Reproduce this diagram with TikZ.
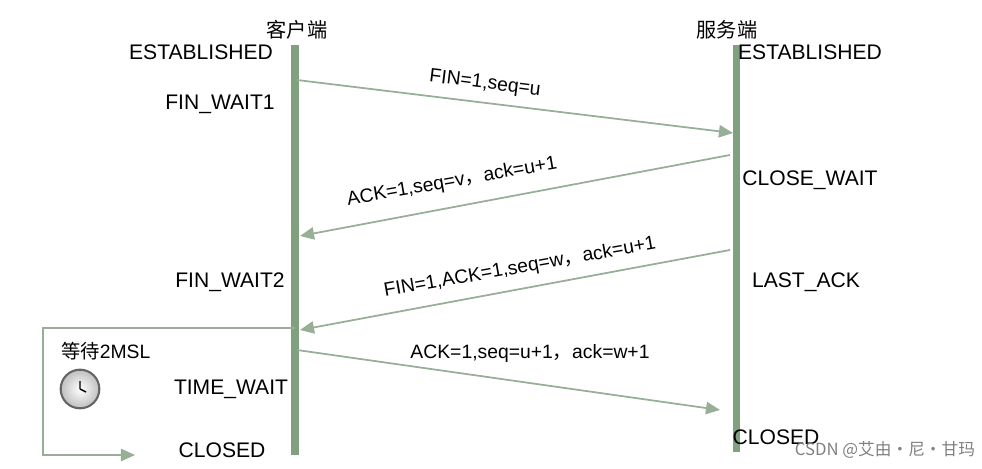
\documentclass[tikz,border=0pt]{standalone}
\usepackage{fontspec}
\setmainfont{Liberation Sans}
\newfontfamily\cjk{Noto Sans CJK SC}
\usetikzlibrary{arrows.meta}
\definecolor{ln}{RGB}{128,160,128}
\definecolor{ar}{RGB}{150,175,150}
\begin{document}
\begin{tikzpicture}[x=0.02cm,y=-0.02cm,
  st/.style={font=\fontsize{12pt}{14pt}\selectfont},
  msg/.style={font=\fontsize{11pt}{13pt}\selectfont},
  life/.style={draw=ln,line width=4pt},
  arr/.style={draw=ar,line width=1pt,-{Triangle[length=8pt,width=7pt]}}]
\useasboundingbox (0,0) rectangle (982,469);
\node[font=\cjk\fontsize{11.5pt}{14pt}\selectfont] (cl) at (297,30) {客户端};
\node[font=\cjk\fontsize{11.5pt}{14pt}\selectfont] (sv) at (727,30) {服务端};
\coordinate (c0) at (295,45); \coordinate (c1) at (295,455);
\coordinate (s0) at (736,45); \coordinate (s1) at (736,452);
\draw[life] (c0) -- (c1);
\draw[life] (s0) -- (s1);
\node[st] (e1) at (201,52) {ESTABLISHED};
\node[st] (fw1) at (220,104) {FIN\_WAIT1};
\node[st] (fw2) at (230,282) {FIN\_WAIT2};
\node[st] (tw) at (231,389) {TIME\_WAIT};
\node[st] (cc) at (222,450) {CLOSED};
\node[st] (e2) at (810,52) {ESTABLISHED};
\node[st] (cw) at (810,180) {CLOSE\_WAIT};
\node[st] (la) at (806,282) {LAST\_ACK};
\node[st] (sc) at (776,437) {CLOSED};
\coordinate (a1s) at (297,80); \coordinate (a1e) at (733,133);
\coordinate (a2s) at (730,155); \coordinate (a2e) at (300,236);
\coordinate (a3s) at (730,250); \coordinate (a3e) at (300,330);
\coordinate (a4s) at (297,350); \coordinate (a4e) at (720,410);
\draw[arr] (a1s) -- (a1e);
\draw[arr] (a2s) -- (a2e);
\draw[arr] (a3s) -- (a3e);
\draw[arr] (a4s) -- (a4e);
\node[msg,rotate=-7] (m1) at (485,84) {FIN=1,seq=u};
\node[msg,rotate=10] (m2) at (452,182) {ACK=1,seq=v{\cjk ，}ack=u+1};
\node[msg,rotate=10] (m3) at (520,268) {FIN=1,ACK=1,seq=w{\cjk ，}ack=u+1};
\node[msg] (m4) at (530,354) {ACK=1,seq=u+1{\cjk ，}ack=w+1};
\coordinate (l1) at (295,328); \coordinate (l2) at (43,328); \coordinate (l3) at (43,455); \coordinate (l4) at (135,455);
\draw[ar,line width=1pt,-{Triangle[length=8pt,width=7pt]}] (l1) -- (l2) -- (l3) -- (l4);
\node[msg,anchor=west] (ms) at (55,351) {{\cjk 等待}2MSL};
\node[circle,draw=gray!80!black,line width=1.2pt,inner color=white,outer color=gray!50,minimum size=22pt] (clk) at (80,389) {};
\draw[black,line width=0.8pt] (clk.center) -- ++(0,-8) (clk.center) -- ++(6,3);
\node[font=\cjk\fontsize{9.5pt}{11pt}\selectfont,text=gray] (wm) at (885,450) {CSDN @艾由·尼·甘玛};
\end{tikzpicture}
\end{document}
